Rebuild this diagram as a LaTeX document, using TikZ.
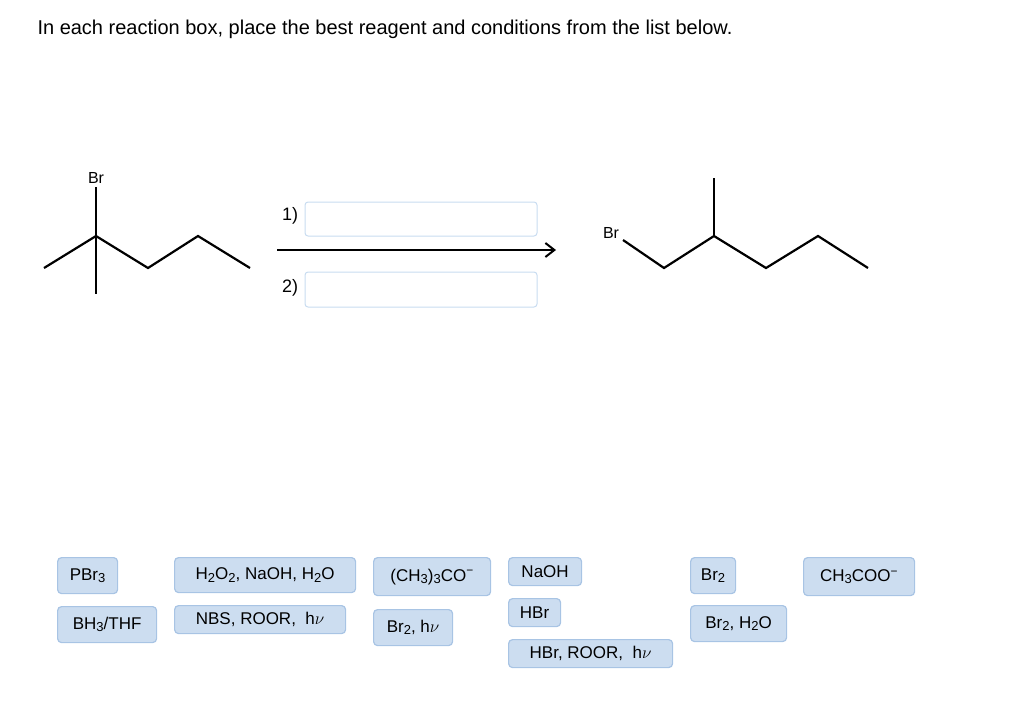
\documentclass[tikz,border=0pt]{standalone}
\usepackage{fontspec}
\setmainfont{Liberation Sans}
\usetikzlibrary{arrows.meta}
\definecolor{chipfill}{HTML}{CCDDF0}
\definecolor{chipdraw}{HTML}{A8C4E4}
\definecolor{boxdraw}{HTML}{C8DCF0}
\newcommand{\sbs}[1]{\raisebox{-0.25ex}{\fontsize{13}{13}\selectfont #1}}
\begin{document}
\begin{tikzpicture}[x=1pt,y=-1pt,
  chip/.style={draw=chipdraw,fill=chipfill,rounded corners=4pt,line width=1.2pt,anchor=north west,inner sep=0pt,font=\fontsize{17}{17}\selectfont},
  bond/.style={line width=2.2pt},
  ansbox/.style={draw=boxdraw,rounded corners=3pt,line width=1pt}]
\useasboundingbox (0,0) rectangle (1024,718);
\node[anchor=west,font=\fontsize{20}{20}\selectfont] (title) at (34,29) {In each reaction box, place the best reagent and conditions from the list below.};
% left molecule
\node[font=\fontsize{16}{16}\selectfont] (brl) at (96,178) {Br};
\coordinate (c1) at (96,236);
\coordinate (c0) at (96,294);
\coordinate (c2) at (44,268);
\coordinate (c3) at (148,268);
\coordinate (c4) at (198,236);
\coordinate (c5) at (250,268);
\draw[bond] (brl.south) -- (c1) -- (c0);
\draw[bond] (c2) -- (c1) -- (c3) -- (c4) -- (c5);
% arrow
\coordinate (a0) at (277,250);
\coordinate (a1) at (556,250);
\draw[line width=2pt,-{Straight Barb[length=9pt,width=14pt,line width=2pt]}] (a0) -- (a1);
\node[font=\fontsize{18}{18}\selectfont] (l1) at (290,216) {1)};
\node[font=\fontsize{18}{18}\selectfont] (l2) at (290,288) {2)};
\draw[ansbox] (305,202) rectangle (537,236);
\draw[ansbox] (305,272) rectangle (537,307);
% right molecule
\node[font=\fontsize{16}{16}\selectfont] (brr) at (611,233) {Br};
\coordinate (d1) at (664,268);
\coordinate (d2) at (714,236);
\coordinate (d3) at (714,178);
\coordinate (d4) at (766,268);
\coordinate (d5) at (818,236);
\coordinate (d6) at (868,268);
\draw[bond] (623,240) -- (d1) -- (d2) -- (d4) -- (d5) -- (d6);
\draw[bond] (d2) -- (d3);
% chips
\node[chip,minimum width=60pt,minimum height=36pt] (k1) at (57,557) {PBr\sbs{3}};
\node[chip,minimum width=99pt,minimum height=36pt] (k2) at (57,606) {BH\sbs{3}/THF};
\node[chip,minimum width=181pt,minimum height=35pt] (k3) at (174,557) {H\sbs{2}O\sbs{2}, NaOH, H\sbs{2}O};
\node[chip,minimum width=171pt,minimum height=28pt] (k4) at (174,605) {NBS, ROOR,\ \ h$\nu$};
\node[chip,minimum width=117pt,minimum height=38pt] (k5) at (373,557) {(CH\sbs{3})\sbs{3}CO\textsuperscript{−}};
\node[chip,minimum width=79pt,minimum height=36pt] (k6) at (373,609) {Br\sbs{2}, h$\nu$};
\node[chip,minimum width=73pt,minimum height=28pt] (k7) at (508,557) {NaOH};
\node[chip,minimum width=52pt,minimum height=28pt] (k8) at (508,598) {HBr};
\node[chip,minimum width=164pt,minimum height=28pt] (k9) at (508,639) {HBr, ROOR,\ \ h$\nu$};
\node[chip,minimum width=45pt,minimum height=36pt] (k10) at (690,557) {Br\sbs{2}};
\node[chip,minimum width=96pt,minimum height=36pt] (k11) at (690,605) {Br\sbs{2}, H\sbs{2}O};
\node[chip,minimum width=111pt,minimum height=38pt] (k12) at (803,557) {CH\sbs{3}COO\textsuperscript{−}};
\end{tikzpicture}
\end{document}
